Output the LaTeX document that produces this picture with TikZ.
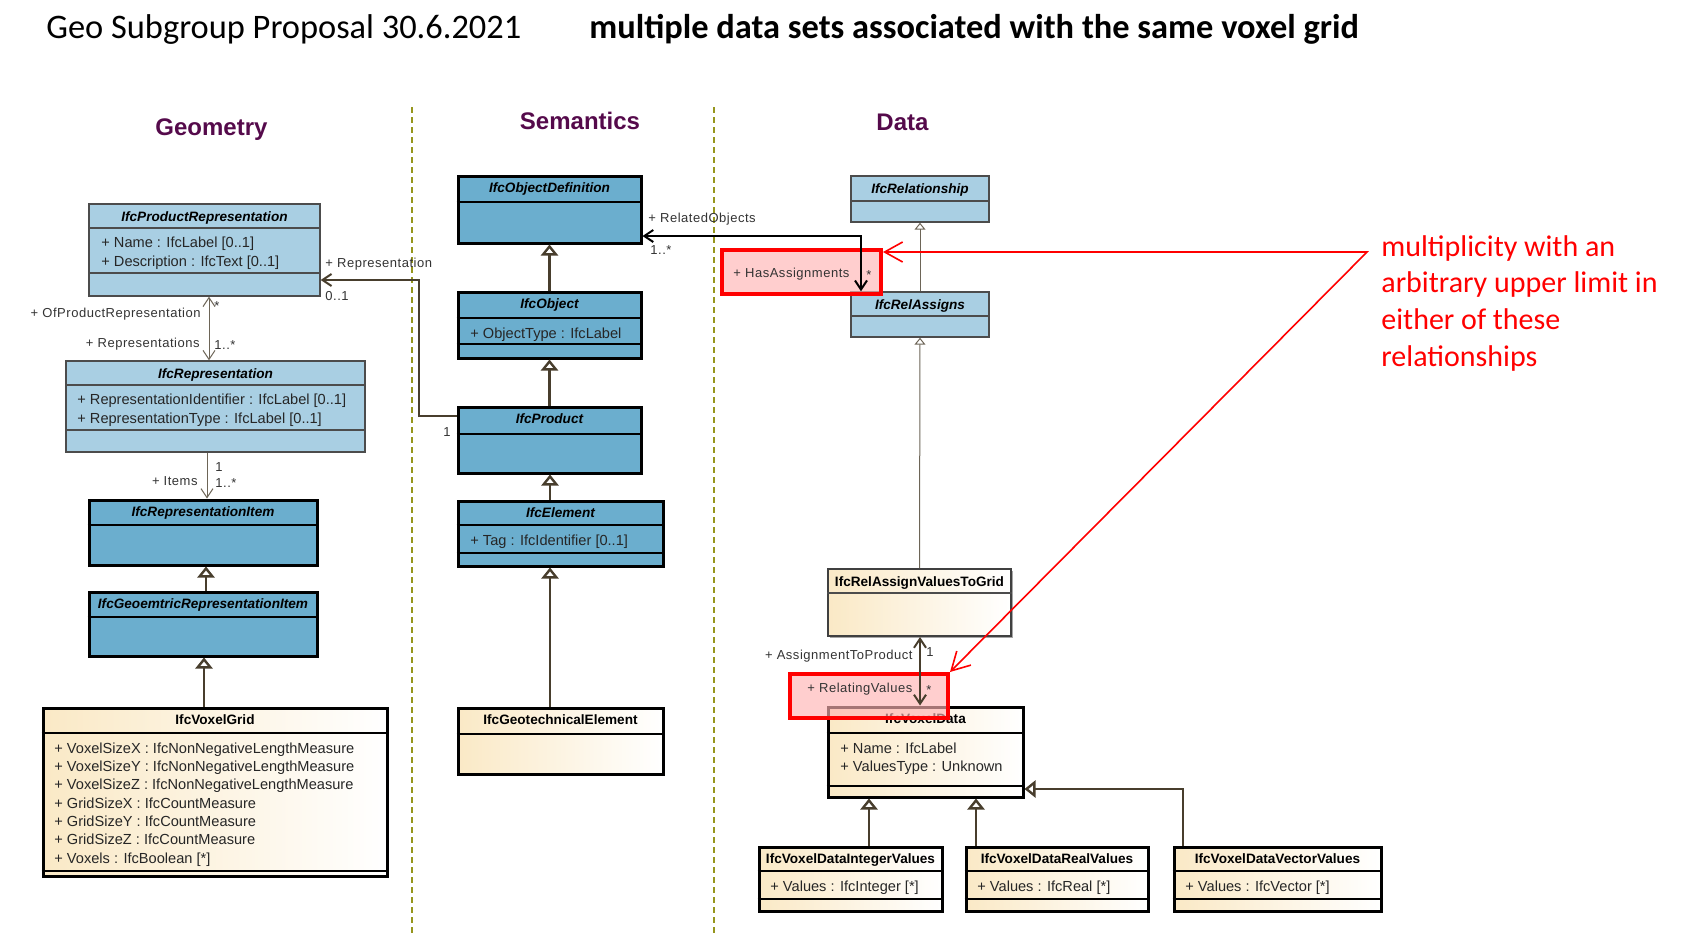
\documentclass[tikz,border=0pt]{standalone}
\usepackage{fontspec}
\setmainfont{Liberation Sans}
\newfontfamily\calibri{Carlito}
\newfontfamily\lblfont[LetterSpace=4]{Liberation Sans}
\usepackage{tikz}
\usetikzlibrary{arrows.meta,fit,shadows,calc}
\definecolor{lightblue}{RGB}{169,207,227}
\definecolor{darkblue}{RGB}{107,174,206}
\definecolor{cream}{RGB}{250,233,198}
\definecolor{linebrown}{RGB}{72,62,45}
\definecolor{plum}{RGB}{85,10,75}
\definecolor{olivedash}{RGB}{150,150,30}
\definecolor{notered}{RGB}{255,0,0}
\definecolor{notefill}{RGB}{255,180,180}
\tikzset{
  cls/.style={inner sep=0pt},
  shadowed/.style={drop shadow={shadow xshift=1.2pt,shadow yshift=-1.2pt,fill=black!35,opacity=1}},
  lightcls/.style={cls,fill=lightblue,draw=black!70,line width=0.7pt},
  darkcls/.style={cls,fill=darkblue,draw=black,line width=1.5pt,shadowed},
  creamcls/.style={cls,left color=cream,right color=white,draw=black,line width=1.5pt,shadowed},
  sep/.style={draw=black,line width=1.2pt},
  thinsep/.style={draw=black!70,line width=0.6pt},
  abstitle/.style={inner sep=0pt,text height=4.9pt,text depth=0pt,
    font=\bfseries\itshape\fontsize{6.8}{8}\selectfont},
  plaintitle/.style={abstitle,font=\bfseries\fontsize{6.8}{8}\selectfont},
  attr/.style={anchor=west,inner sep=0pt,text height=5.2pt,text depth=0pt,text=black!85,
    font=\fontsize{7.3}{8.5}\selectfont},
  lbl/.style={inner sep=0pt,text height=4.7pt,text depth=0pt,text=black!80,
    font=\lblfont\fontsize{6.5}{7.5}\selectfont},
  heading/.style={anchor=base,inner sep=0pt,text=plum,font=\bfseries\fontsize{12}{14}\selectfont},
  pagetitle/.style={anchor=base west,inner sep=0pt,font=\calibri\fontsize{17.2}{21}\selectfont},
  divider/.style={draw=olivedash,line width=0.8pt,dash pattern=on 3pt off 2pt},
  nav/.tip={Straight Barb[length=4.5pt,width=6pt]},
  bignav/.tip={Straight Barb[length=9pt,width=10pt]},
  assoc/.style={draw=linebrown,line width=1pt},
  assocthin/.style={draw=linebrown!80,line width=0.5pt},
  assocblack/.style={draw=black,line width=1pt},
  gen/.style={draw=linebrown,line width=1.2pt,-{Triangle[open,length=5.5pt,width=8.5pt]}},
  genthin/.style={draw=linebrown!80,line width=0.5pt,-{Triangle[open,length=3.5pt,width=5.5pt]}},
  notebox/.style={inner sep=0pt,draw=notered,line width=2pt,fill=notefill,fill opacity=0.65},
  notearrow/.style={draw=notered,line width=0.8pt,{bignav}-{bignav}},
}
\newcommand{\umltitle}[3][abstitle]{\node[#1] (#2-t) at ($(#2.north)+(0,13.5)$) {#3};}
\newcommand{\classsep}[3][sep]{\draw[#1] (#2.west |- 0,#3) -- (#2.east |- 0,#3);}

\begin{document}
\begin{tikzpicture}[x=0.5pt,y=-0.5pt]
\useasboundingbox (0,0) rectangle (1705,948);

\node[pagetitle] (title) at (46,38) {Geo Subgroup Proposal 30.6.2021};
\node[pagetitle,font=\calibri\bfseries\fontsize{17.2}{21}\selectfont] (subtitle) at (589,38)
  {multiple data sets associated with the same voxel grid};

\node[heading] (hgeo) at (211.5,135) {Geometry};
\node[heading] (hsem) at (580,129) {Semantics};
\node[heading] (hdata) at (902.5,130) {Data};

\draw[divider] (412,107) -- (412,935);
\draw[divider] (714,107) -- (714,935);

% Geometry
\node[lightcls,fit={(89,204) (320,296)}] (prodrep) {};
\umltitle{prodrep}{IfcProductRepresentation}
\classsep[thinsep]{prodrep}{228}
\classsep[thinsep]{prodrep}{273}
\node[attr] (prodrep-a1) at (101,242) {+ Name : IfcLabel [0..1]};
\node[attr] (prodrep-a2) at (101,261) {+ Description : IfcText [0..1]};

\node[lightcls,fit={(66,361) (365,452)}] (rep) {};
\umltitle{rep}{IfcRepresentation}
\classsep[thinsep]{rep}{385}
\classsep[thinsep]{rep}{430}
\node[attr] (rep-a1) at (77,399) {+ RepresentationIdentifier : IfcLabel [0..1]};
\node[attr] (rep-a2) at (77,418) {+ RepresentationType : IfcLabel [0..1]};

\node[darkcls,fit={(89,500) (317,565)}] (repitem) {};
\umltitle{repitem}{IfcRepresentationItem}
\classsep{repitem}{525}

\node[darkcls,fit={(89,592) (317,656)}] (georepitem) {};
\umltitle{georepitem}{IfcGeoemtricRepresentationItem}
\classsep{georepitem}{617}

\node[creamcls,fit={(43,708) (387,876)}] (voxelgrid) {};
\umltitle[plaintitle]{voxelgrid}{IfcVoxelGrid}
\classsep{voxelgrid}{733}
\classsep{voxelgrid}{871}
\foreach \a [count=\i] in {{+ VoxelSizeX : IfcNonNegativeLengthMeasure},
    {+ VoxelSizeY : IfcNonNegativeLengthMeasure},{+ VoxelSizeZ : IfcNonNegativeLengthMeasure},
    {+ GridSizeX : IfcCountMeasure},{+ GridSizeY : IfcCountMeasure},
    {+ GridSizeZ : IfcCountMeasure},{+ Voxels : IfcBoolean [*]}}
  \node[attr] (voxelgrid-a\i) at (54,{748+18.3*(\i-1)}) {\a};

% Semantics
\node[darkcls,fit={(458,176) (641,243)}] (objdef) {};
\umltitle{objdef}{IfcObjectDefinition}
\classsep{objdef}{202}

\node[darkcls,fit={(458,292) (641,358)}] (object) {};
\umltitle{object}{IfcObject}
\classsep{object}{318}
\classsep{object}{344}
\node[attr] (object-a1) at (470,333) {+ ObjectType : IfcLabel};

\node[darkcls,fit={(458,407) (641,473)}] (product) {};
\umltitle{product}{IfcProduct}
\classsep{product}{434}

\node[darkcls,fit={(458,501) (663,566)}] (element) {};
\umltitle{element}{IfcElement}
\classsep{element}{525}
\classsep{element}{553}
\node[attr] (element-a1) at (470,540) {+ Tag : IfcIdentifier [0..1]};

\node[creamcls,fit={(458,708) (663,774)}] (geotech) {};
\umltitle[plaintitle]{geotech}{IfcGeotechnicalElement}
\classsep{geotech}{734}

% Data
\node[lightcls,fit={(851,176) (989,222)}] (relship) {};
\umltitle{relship}{IfcRelationship}
\classsep[thinsep]{relship}{201}

\node[lightcls,fit={(851,292) (989,337)}] (relassigns) {};
\umltitle{relassigns}{IfcRelAssigns}
\classsep[thinsep]{relassigns}{316}

\node[creamcls,line width=1pt,draw=black!75,fit={(828,569) (1011,636)}] (relgrid) {};
\umltitle[plaintitle]{relgrid}{IfcRelAssignValuesToGrid}
\classsep[thinsep]{relgrid}{593}

\node[creamcls,fit={(828,707) (1023,797)}] (voxeldata) {};
\umltitle[plaintitle]{voxeldata}{IfcVoxelData}
\classsep{voxeldata}{733}
\classsep{voxeldata}{786}
\node[attr] (voxeldata-a1) at (840,748) {+ Name : IfcLabel};
\node[attr] (voxeldata-a2) at (840,766) {+ ValuesType : Unknown};

\node[creamcls,fit={(759,847) (942,911)}] (intvals) {};
\umltitle[plaintitle]{intvals}{IfcVoxelDataIntegerValues}
\classsep{intvals}{871}
\classsep{intvals}{899}
\node[attr] (intvals-a1) at (770,886) {+ Values : IfcInteger [*]};

\node[creamcls,fit={(966,847) (1148,911)}] (realvals) {};
\umltitle[plaintitle]{realvals}{IfcVoxelDataRealValues}
\classsep{realvals}{871}
\classsep{realvals}{899}
\node[attr] (realvals-a1) at (977,886) {+ Values : IfcReal [*]};

\node[creamcls,fit={(1174,847) (1381,911)}] (vecvals) {};
\umltitle[plaintitle]{vecvals}{IfcVoxelDataVectorValues}
\classsep{vecvals}{871}
\classsep{vecvals}{899}
\node[attr] (vecvals-a1) at (1185,886) {+ Values : IfcVector [*]};

% highlighted multiplicities
\node[notebox,fit={(722,250) (881,294)}] (hasbox) {};
\node[notebox,fit={(790,674) (948,718)}] (relbox) {};

% generalisations
\draw[gen] (georepitem.north -| 206,0) -- (repitem.south -| 206,0);
\draw[gen] (voxelgrid.north -| 204,0) -- (georepitem.south -| 204,0);
\draw[gen] (object.north) -- (objdef.south);
\draw[gen] (product.north) -- (object.south);
\draw[gen] (element.north -| 550,0) -- (product.south -| 550,0);
\draw[gen] (geotech.north -| 550,0) -- (element.south -| 550,0);
\draw[genthin] (relassigns.north) -- (relship.south);
\draw[genthin] (relgrid.north) -- (relassigns.south);
\draw[gen] (intvals.north -| 869,0) -- (voxeldata.south -| 869,0);
\draw[gen] (realvals.north -| 976,0) -- (voxeldata.south -| 976,0);
\draw[gen] (vecvals.north -| 1183,0) -- (1183,789) -- (voxeldata.east |- 0,789);

% associations
\draw[assocthin,{nav}-{nav}] (rep.north -| 209,0) -- (prodrep.south -| 209,0);
\draw[assoc,-{nav}] (product.west |- 0,416) -- (419,416) -- (419,280) -- (prodrep.east |- 0,280);
\draw[assocthin,-{nav}] (rep.south -| 207,0) -- (repitem.north -| 207,0);
\draw[assocblack,{nav}-{nav}] (relassigns.north -| 861,0) -- (861,236) -- (objdef.east |- 0,236);
\draw[assoc,{nav}-{nav}] (voxeldata.north -| 920,0) -- (relgrid.south -| 920,0);

\node[lbl,anchor=east] (l-ofprod) at (201,313) {+ OfProductRepresentation};
\node[lbl,anchor=west] (l-ofprodm) at (214,306) {*};
\node[lbl,anchor=east] (l-reps) at (200,343) {+ Representations};
\node[lbl,anchor=west] (l-repsm) at (214,345) {1..*};
\node[lbl,anchor=west] (l-rep) at (325,263) {+ Representation};
\node[lbl,anchor=west] (l-repm) at (325,296) {0..1};
\node[lbl,anchor=west] (l-prodm) at (443,432) {1};
\node[lbl,anchor=east] (l-items) at (198,481) {+ Items};
\node[lbl,anchor=west] (l-itemsm1) at (215,467) {1};
\node[lbl,anchor=west] (l-itemsm2) at (215,483) {1..*};
\node[lbl,anchor=west] (l-relobj) at (648,218) {+ RelatedObjects};
\node[lbl,anchor=west] (l-relobjm) at (650,250) {1..*};
\node[lbl,anchor=west] (l-hasass) at (733,273) {+ HasAssignments};
\node[lbl,anchor=west] (l-hasassm) at (866,275) {*};
\node[lbl,anchor=east] (l-assprod) at (913,655) {+ AssignmentToProduct};
\node[lbl,anchor=west] (l-assprodm) at (926,652) {1};
\node[lbl,anchor=west] (l-relval) at (807,688) {+ RelatingValues};
\node[lbl,anchor=west] (l-relvalm) at (926,690) {*};

% note
\coordinate (notecorner) at (1367,252);
\draw[notearrow] (hasbox.east |- notecorner) -- (notecorner) -- (relbox.north east);
\node[anchor=north west,inner sep=0pt,align=left,text=notered,
  font=\calibri\fontsize{15}{18.35}\selectfont] (note) at (1381,235)
  {multiplicity with an\\arbitrary upper limit in\\either of these\\relationships};
\end{tikzpicture}
\end{document}
